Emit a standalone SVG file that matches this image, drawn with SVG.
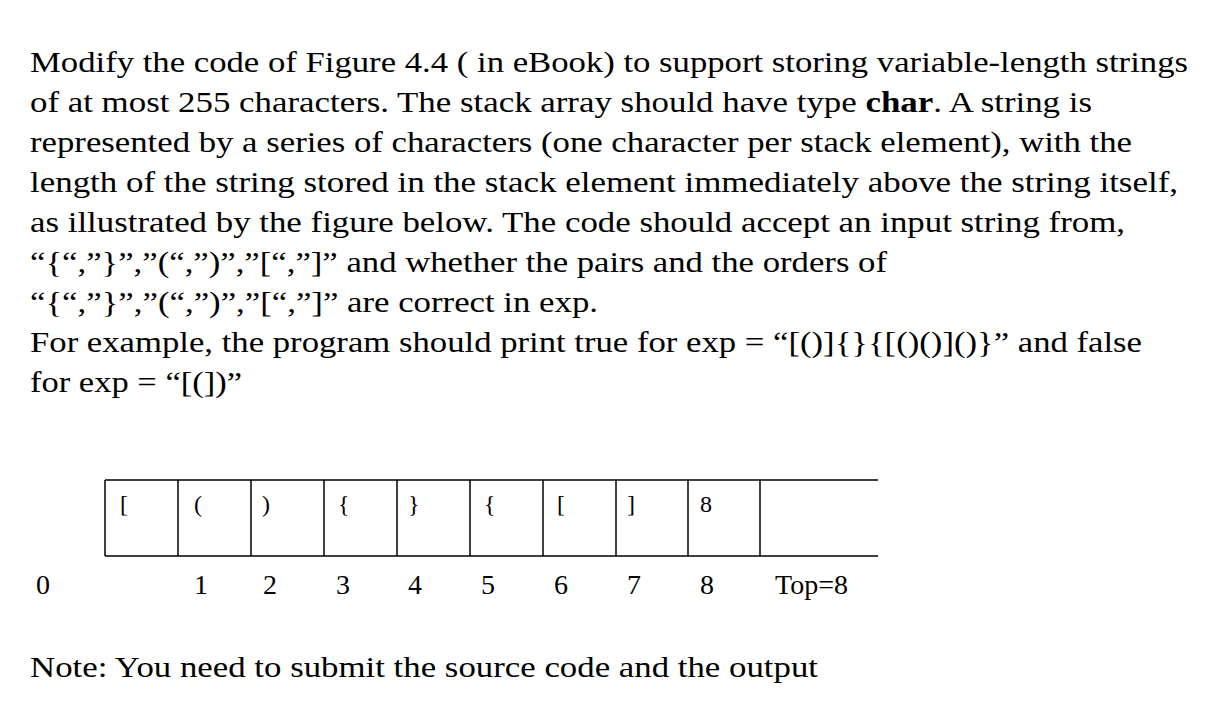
<svg xmlns="http://www.w3.org/2000/svg" width="1227" height="703" viewBox="0 0 1227 703">
<style>
text{font-family:"Liberation Serif","Times New Roman",serif;fill:#000}
.b{font-size:30px}
.c{font-size:24px}
.n{font-size:28px}
line{stroke:#000;stroke-width:1.5}
</style>
<rect width="1227" height="703" fill="#fff"/>
<g id="paragraph">
<text class="b" x="30" y="72" textLength="1158" lengthAdjust="spacingAndGlyphs">Modify the code of Figure 4.4 ( in eBook) to support storing variable-length strings</text>
<text class="b" x="30" y="112" textLength="1062" lengthAdjust="spacingAndGlyphs">of at most 255 characters. The stack array should have type <tspan font-weight="bold">char</tspan>. A string is</text>
<text class="b" x="30" y="152" textLength="1102" lengthAdjust="spacingAndGlyphs">represented by a series of characters (one character per stack element), with the</text>
<text class="b" x="30" y="192" textLength="1148" lengthAdjust="spacingAndGlyphs">length of the string stored in the stack element immediately above the string itself,</text>
<text class="b" x="30" y="232" textLength="1095" lengthAdjust="spacingAndGlyphs">as illustrated by the figure below. The code should accept an input string from,</text>
<text class="b" x="30" y="272" textLength="857" lengthAdjust="spacingAndGlyphs">“{“,”}”,”(“,”)”,”[“,”]” and whether the pairs and the orders of</text>
<text class="b" x="30" y="312" textLength="568" lengthAdjust="spacingAndGlyphs">“{“,”}”,”(“,”)”,”[“,”]” are correct in exp.</text>
<text class="b" x="30" y="352" textLength="1112" lengthAdjust="spacingAndGlyphs">For example, the program should print true for exp = “[()]{}{[()()]()}” and false</text>
<text class="b" x="30" y="392" textLength="212" lengthAdjust="spacingAndGlyphs">for exp = “[(])”</text>
</g>
<g id="stack">
<line x1="105" y1="480" x2="878" y2="480"/>
<line x1="105" y1="556" x2="878" y2="556"/>
<line x1="105" y1="480" x2="105" y2="556"/>
<line x1="178" y1="480" x2="178" y2="556"/>
<line x1="251" y1="480" x2="251" y2="556"/>
<line x1="324" y1="480" x2="324" y2="556"/>
<line x1="397" y1="480" x2="397" y2="556"/>
<line x1="470" y1="480" x2="470" y2="556"/>
<line x1="543" y1="480" x2="543" y2="556"/>
<line x1="616" y1="480" x2="616" y2="556"/>
<line x1="688" y1="480" x2="688" y2="556"/>
<line x1="760" y1="480" x2="760" y2="556"/>
<text class="c" x="120" y="512">[</text>
<text class="c" x="194" y="512">(</text>
<text class="c" x="262" y="512">)</text>
<text class="c" x="338" y="512">{</text>
<text class="c" x="408" y="512">}</text>
<text class="c" x="484" y="512">{</text>
<text class="c" x="557" y="512">[</text>
<text class="c" x="627" y="512">]</text>
<text class="c" x="700" y="512">8</text>
<text class="n" x="36" y="594">0</text>
<text class="n" x="194" y="594">1</text>
<text class="n" x="263" y="594">2</text>
<text class="n" x="336" y="594">3</text>
<text class="n" x="408" y="594">4</text>
<text class="n" x="481" y="594">5</text>
<text class="n" x="554" y="594">6</text>
<text class="n" x="627" y="594">7</text>
<text class="n" x="700" y="594">8</text>
<text class="n" x="775" y="594">Top=8</text>
</g>
<text class="b" x="30" y="677" textLength="788" lengthAdjust="spacingAndGlyphs">Note: You need to submit the source code and the output</text>
</svg>
